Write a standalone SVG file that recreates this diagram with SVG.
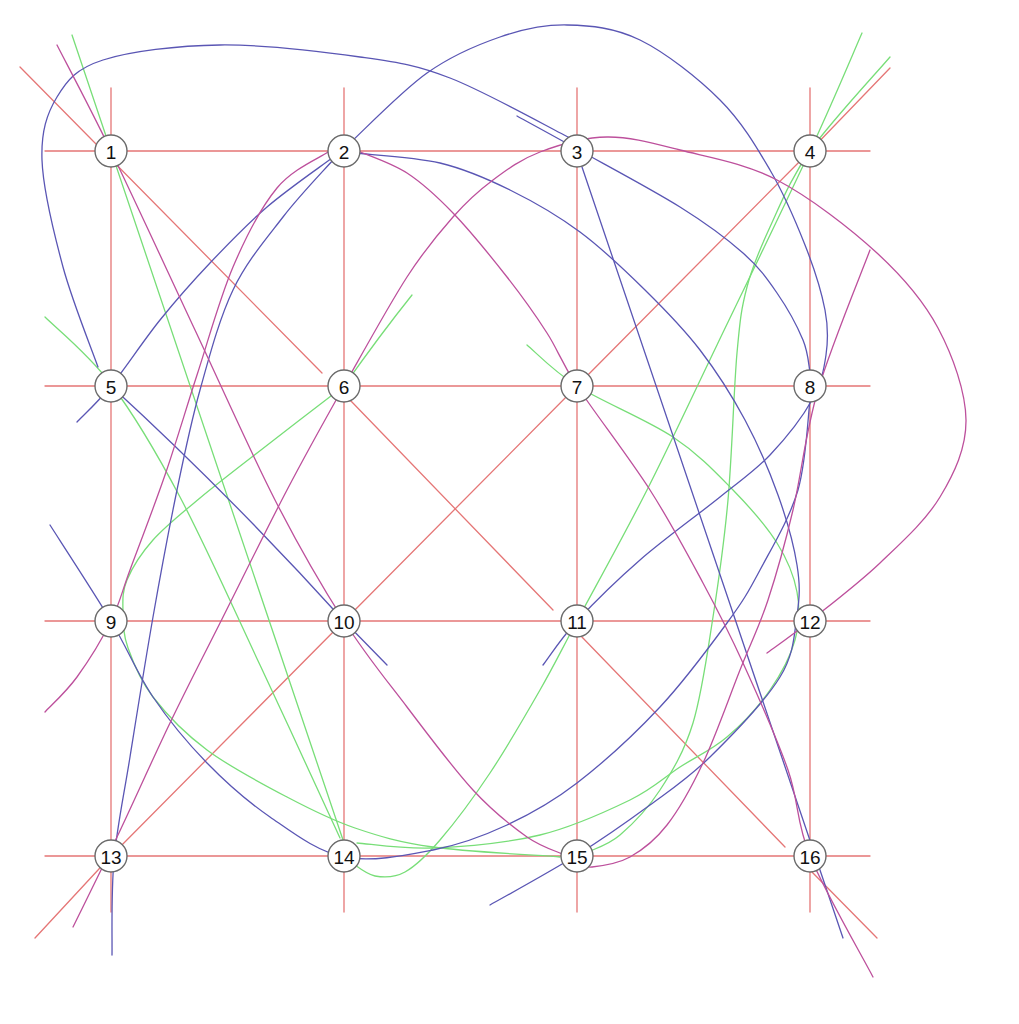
<svg xmlns="http://www.w3.org/2000/svg" width="1019" height="1024" viewBox="0 0 1019 1024">
<style>
.c path,.c line,.c polyline{fill:none;stroke-width:1.3;stroke-linecap:round;stroke-linejoin:round}
.r{stroke:#e57676}
.g{stroke:#78de78}
.b{stroke:#5a56b4}
.m{stroke:#bd509c}
.n circle{fill:#fff;stroke:#6a6a6a;stroke-width:1.4}
.n text{font-family:"Liberation Sans",Arial,sans-serif;font-size:19px;fill:#111;text-anchor:middle;dominant-baseline:central}
</style>
<rect width="1019" height="1024" fill="#fff"/>
<g id="connectors" class="c">
<line class="r" x1="45" y1="151" x2="870" y2="151"/>
<line class="r" x1="45" y1="386" x2="870" y2="386"/>
<line class="r" x1="45" y1="621" x2="870" y2="621"/>
<line class="r" x1="45" y1="856" x2="870" y2="856"/>
<line class="r" x1="111" y1="88" x2="111" y2="912"/>
<line class="r" x1="344" y1="88" x2="344" y2="912"/>
<line class="r" x1="577" y1="88" x2="577" y2="912"/>
<line class="r" x1="810" y1="88" x2="810" y2="912"/>
<line class="r" x1="20" y1="67" x2="322" y2="373"/>
<line class="r" x1="350" y1="400" x2="553" y2="610"/>
<line class="r" x1="580" y1="635" x2="785" y2="847"/>
<line class="r" x1="810" y1="870" x2="877" y2="938"/>
<polyline class="r" points="890,68 810,151 577,386 344,621 111,856 35,938"/>
<line class="g" x1="72" y1="35" x2="343" y2="840"/>
<path class="g" d="M45,317 C56,328 88.5,354 111,384 C133.5,414 155.2,450.2 180,497 C204.8,543.8 233.3,608.2 260,665 C286.7,721.8 326.7,809.2 340,838"/>
<path class="g" d="M412,295 Q380,335 344,386"/>
<path class="g" d="M344,386 C331.7,395.5 294,424.3 270,443 C246,461.7 219.5,481.8 200,498 C180.5,514.2 165.2,526.3 153,540 C140.8,553.7 132,568 127,580 C122,592 122.8,600.7 123,612 C123.2,623.3 123,633.8 128,648 C133,662.2 139.8,680 153,697 C166.2,714 184.7,733.3 207,750 C229.3,766.7 262.3,784 287,797 C311.7,810 330.7,819.7 355,828 C379.3,836.3 398.8,842.2 433,847 C467.2,851.8 538.8,855.3 560,857"/>
<path class="g" d="M527,345 C535.3,351.8 552.7,370.7 577,386 C601.3,401.3 647,419.7 673,437 C699,454.3 715.7,472.3 733,490 C750.3,507.7 766.3,526 777,543 C787.7,560 794,575.8 797,592 C800,608.2 799.5,623.7 795,640 C790.5,656.3 781.3,673.8 770,690 C758.7,706.2 742,724.2 727,737 C712,749.8 696.2,756.5 680,767 C663.8,777.5 653.3,788.7 630,800 C606.7,811.3 572.8,827 540,835 C507.2,843 463.5,846.7 433,848 C402.5,849.3 369.7,843.8 357,843"/>
<path class="g" d="M890,57 C876.7,72.7 830,122.7 810,151 C790,179.3 780.5,204.3 770,227 C759.5,249.7 752.5,266 747,287 C741.5,308 740.2,317.5 737,353 C733.8,388.5 732,456 728,500 C724,544 718.8,579.8 713,617 C707.2,654.2 701.8,694.2 693,723 C684.2,751.8 672.2,771.3 660,790 C647.8,808.7 632,824.7 620,835 C608,845.3 593.3,849.2 588,852"/>
<path class="g" d="M862,33 C853.3,52.7 834.2,99 810,151 C785.8,203 744.2,288.5 717,345 C689.8,401.5 670.3,444 647,490 C623.7,536 594.8,587.7 577,621 C559.2,654.3 554.5,664.7 540,690 C525.5,715.3 506.7,748 490,773 C473.3,798 454.2,823.5 440,840 C425.8,856.5 415.8,866 405,872 C394.2,878 383.8,877.5 375,876 C366.2,874.5 355.8,865.2 352,863"/>
<path class="b" d="M98,367 C92.2,350.3 72.3,301.5 63,267 C53.7,232.5 43,188.3 42,160 C41,131.7 46.8,113.7 57,97 C67.2,80.3 75.8,68.7 103,60 C130.2,51.3 177.2,45.5 220,45 C262.8,44.5 321.7,51.5 360,57 C398.3,62.5 415,64.5 450,78 C485,91.5 550,128 570,138"/>
<path class="b" d="M517,116 C527,121.5 549.8,133.8 577,149 C604.2,164.2 652.3,189.7 680,207 C707.7,224.3 726.8,238.7 743,253 C759.2,267.3 767,278.5 777,293 C787,307.5 797.5,326.8 803,340 C808.5,353.2 808.8,366.7 810,372"/>
<path class="b" d="M350,143 C362.8,131.3 402,90.7 427,73 C452,55.3 476.7,45 500,37 C523.3,29 543.7,24.5 567,25 C590.3,25.5 614.5,27.5 640,40 C665.5,52.5 698.3,78.3 720,100 C741.7,121.7 755.8,145.8 770,170 C784.2,194.2 795.8,221.7 805,245 C814.2,268.3 821.5,291.7 825,310 C828.5,328.3 828.2,340 826,355 C823.8,370 821.3,383.3 812,400 C802.7,416.7 785.3,438.8 770,455 C754.7,471.2 741.7,479.5 720,497 C698.3,514.5 663.8,539.3 640,560 C616.2,580.7 593.2,603.5 577,621 C560.8,638.5 548.7,657.7 543,665"/>
<path class="b" d="M355,153 C369.2,154.7 414.2,156.8 440,163 C465.8,169.2 486.7,178.5 510,190 C533.3,201.5 557.5,215.3 580,232 C602.5,248.7 625,270.3 645,290 C665,309.7 683.3,328.3 700,350 C716.7,371.7 732,395.8 745,420 C758,444.2 769.3,470.8 778,495 C786.7,519.2 793.8,545 797,565 C800.2,585 799.8,596.3 797,615 C794.2,633.7 794.5,653.3 780,677 C765.5,700.7 731.7,735.7 710,757 C688.3,778.3 672.2,788.7 650,805 C627.8,821.3 603.7,838.3 577,855 C550.3,871.7 504.5,896.7 490,905"/>
<line class="b" x1="582" y1="167" x2="843" y2="938"/>
<path class="b" d="M77,422 C82.7,416 97.2,403 111,386 C124.8,369 143.5,340.5 160,320 C176.5,299.5 192.2,281.8 210,263 C227.8,244.2 246.7,224.5 267,207 C287.3,189.5 321.2,166.2 332,158"/>
<path class="b" d="M333,160 C324.7,169.5 299.7,195.3 283,217 C266.3,238.7 246.8,261.2 233,290 C219.2,318.8 209.3,356.7 200,390 C190.7,423.3 184.8,452.2 177,490 C169.2,527.8 160.8,572.5 153,617 C145.2,661.5 136.5,716.5 130,757 C123.5,797.5 117,827 114,860 C111,893 112.3,939.2 112,955"/>
<path class="b" d="M111,386 Q230,495 344,621 L387,665"/>
<path class="b" d="M50,525 C60.2,541 93.8,592.3 111,621 C128.2,649.7 137,673.3 153,697 C169,720.7 187.5,743 207,763 C226.5,783 247.2,801.3 270,817 C292.8,832.7 316.8,851.5 344,857 C371.2,862.5 405.8,855.3 433,850 C460.2,844.7 483,836.2 507,825 C531,813.8 551.5,802.7 577,783 C602.5,763.3 635,733.7 660,707 C685,680.3 710.3,645.8 727,623 C743.7,600.2 748.2,592.2 760,570 C771.8,547.8 789.7,518.3 798,490 C806.3,461.7 808,415 810,400"/>
<path class="m" d="M57,45 C66,62.7 88,103.5 111,151 C134,198.5 167.7,271.8 195,330 C222.3,388.2 250.2,451.5 275,500 C299.8,548.5 322,586.5 344,621 C366,655.5 385.5,678.8 407,707 C428.5,735.2 453,768.3 473,790 C493,811.7 511.7,826.2 527,837 C542.3,847.8 558.7,852 565,855"/>
<path class="m" d="M328,152 C319.5,158 292.8,168.8 277,188 C261.2,207.2 246.3,235.8 233,267 C219.7,298.2 208.3,340.3 197,375 C185.7,409.7 176.2,442.5 165,475 C153.8,507.5 139,545.7 130,570 C121,594.3 119.8,603.2 111,621 C102.2,638.8 88,661.8 77,677 C66,692.2 50.3,706.2 45,712"/>
<path class="m" d="M358,151 C366.2,154.7 391.2,162.7 407,173 C422.8,183.3 436.3,195.7 453,213 C469.7,230.3 491.3,257 507,277 C522.7,297 535.3,314.8 547,333 C558.7,351.2 559.8,359.8 577,386 C594.2,412.2 629,457.2 650,490 C671,522.8 687.5,554.2 703,583 C718.5,611.8 728.8,631.8 743,663 C757.2,694.2 776.8,737.8 788,770 C799.2,802.2 795.8,821.5 810,856 C824.2,890.5 862.5,956.8 873,977"/>
<path class="m" d="M767,653 C774.2,647.7 791.2,636 810,621 C828.8,606 858.3,583.7 880,563 C901.7,542.3 925.7,520.8 940,497 C954.3,473.2 966.3,448.2 966,420 C965.7,391.8 952.8,355.8 938,328 C923.2,300.2 903.8,277.7 877,253 C850.2,228.3 809.8,197.2 777,180 C744.2,162.8 708.3,157.2 680,150 C651.7,142.8 630.3,136.7 607,137 C583.7,137.3 559,144.8 540,152 C521,159.2 507.5,169.2 493,180 C478.5,190.8 467.3,200.8 453,217 C438.7,233.2 425.2,248.8 407,277 C388.8,305.2 364,350.5 344,386 C324,421.5 307.7,450.5 287,490 C266.3,529.5 239.5,584.2 220,623 C200.5,661.8 187.2,687.3 170,723 C152.8,758.7 133.2,803 117,837 C100.8,871 80.3,912 73,927"/>
<path class="m" d="M870,250 C861.3,273.3 830.8,346.7 818,390 C805.2,433.3 801.3,475 793,510 C784.7,545 776.8,573.3 768,600 C759.2,626.7 750.8,642.8 740,670 C729.2,697.2 715.2,737.2 703,763 C690.8,788.8 679.2,809.3 667,825 C654.8,840.7 642.5,850 630,857 C617.5,864 600.8,866 592,867 C583.2,868 579.5,863.7 577,863"/>
</g>
<g id="node1" class="n"><circle cx="111" cy="151" r="16"/><text x="111" y="152">1</text></g>
<g id="node2" class="n"><circle cx="344" cy="151" r="16"/><text x="344" y="152">2</text></g>
<g id="node3" class="n"><circle cx="577" cy="151" r="16"/><text x="577" y="152">3</text></g>
<g id="node4" class="n"><circle cx="810" cy="151" r="16"/><text x="810" y="152">4</text></g>
<g id="node5" class="n"><circle cx="111" cy="386" r="16"/><text x="111" y="387">5</text></g>
<g id="node6" class="n"><circle cx="344" cy="386" r="16"/><text x="344" y="387">6</text></g>
<g id="node7" class="n"><circle cx="577" cy="386" r="16"/><text x="577" y="387">7</text></g>
<g id="node8" class="n"><circle cx="810" cy="386" r="16"/><text x="810" y="387">8</text></g>
<g id="node9" class="n"><circle cx="111" cy="621" r="16"/><text x="111" y="622">9</text></g>
<g id="node10" class="n"><circle cx="344" cy="621" r="16"/><text x="344" y="622">10</text></g>
<g id="node11" class="n"><circle cx="577" cy="621" r="16"/><text x="577" y="622">11</text></g>
<g id="node12" class="n"><circle cx="810" cy="621" r="16"/><text x="810" y="622">12</text></g>
<g id="node13" class="n"><circle cx="111" cy="856" r="16"/><text x="111" y="857">13</text></g>
<g id="node14" class="n"><circle cx="344" cy="856" r="16"/><text x="344" y="857">14</text></g>
<g id="node15" class="n"><circle cx="577" cy="856" r="16"/><text x="577" y="857">15</text></g>
<g id="node16" class="n"><circle cx="810" cy="856" r="16"/><text x="810" y="857">16</text></g>
</svg>
